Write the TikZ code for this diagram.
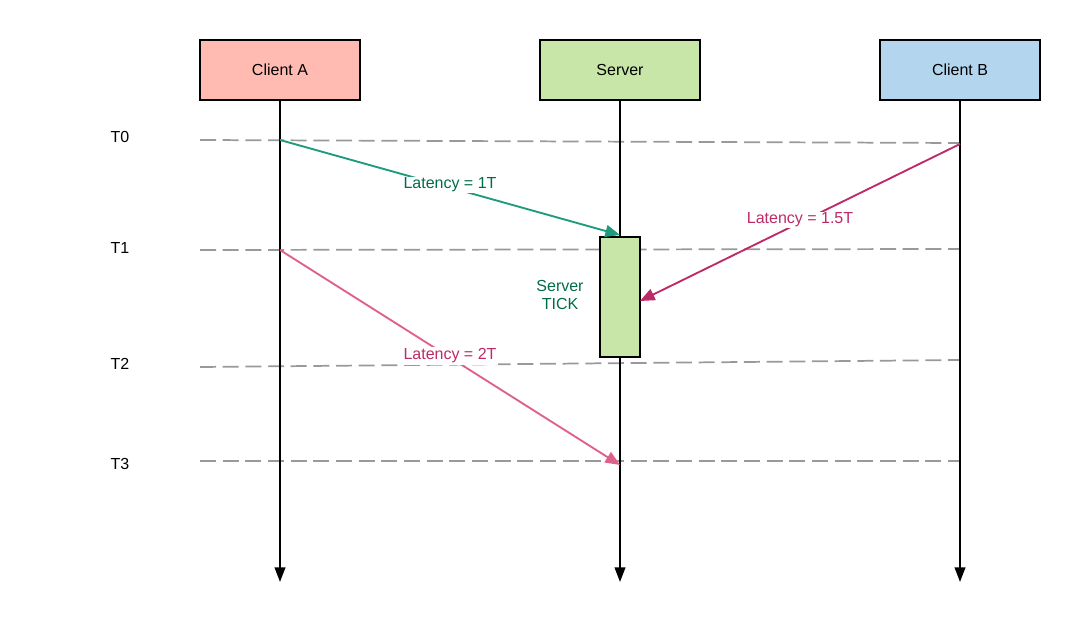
\documentclass[tikz,border=0pt]{standalone}
\usepackage{fontspec}
\setmainfont{Liberation Sans}
\usetikzlibrary{arrows.meta}
\definecolor{ca}{HTML}{FFBBB1}
\definecolor{sv}{HTML}{C8E6A8}
\definecolor{cb}{HTML}{B3D6EE}
\definecolor{gr}{HTML}{1E9A7C}
\definecolor{dg}{HTML}{006B4A}
\definecolor{mg}{HTML}{BE2A66}
\definecolor{pk}{HTML}{E0608C}
\tikzset{
  box/.style={draw, line width=1.4pt, minimum width=120pt, minimum height=45pt, font=\large},
  life/.style={line width=1.4pt, -{Triangle[length=11pt,width=8pt]}},
  grid/.style={gray!80, dash pattern=on 12pt off 5pt, line width=1.3pt},
  msg/.style={line width=1.4pt, -{Triangle[length=11pt,width=9pt]}},
  lbl/.style={fill=white, inner sep=1pt, font=\large},
  tl/.style={font=\large}
}
\begin{document}
\begin{tikzpicture}[x=0.75pt,y=-0.75pt]
\useasboundingbox (0,0) rectangle (1080,620);
\node[box, fill=ca] (a) at (280,70) {Client A};
\node[box, fill=sv] (s) at (620,70) {Server};
\node[box, fill=cb] (b) at (960,70) {Client B};
\coordinate (ae) at (280,582);
\coordinate (se) at (620,582);
\coordinate (be) at (960,582);
% time lines
\coordinate (g0a) at (200,140); \coordinate (g0b) at (960,143);
\coordinate (g1a) at (200,250); \coordinate (g1b) at (960,249);
\coordinate (g2a) at (200,367); \coordinate (g2b) at (960,360);
\coordinate (g3a) at (200,461); \coordinate (g3b) at (960,461);
\draw[grid] (g0a) -- (g0b);
\draw[grid] (g1a) -- (g1b);
\draw[grid] (g2a) -- (g2b);
\draw[grid] (g3a) -- (g3b);
\node[tl] (t0) at (120,137) {T0};
\node[tl] (t1) at (120,248) {T1};
\node[tl] (t2) at (120,364) {T2};
\node[tl] (t3) at (120,464) {T3};
\draw[life] (a.south) -- (ae);
\draw[life] (s.south) -- (se);
\draw[life] (b.south) -- (be);
\node[draw, line width=1.4pt, fill=sv, minimum width=30pt, minimum height=90pt, inner sep=0pt] (tick) at (620,297) {};
\node[text=dg, align=center, font=\large] (tt) at (560,295) {Server\\TICK};
% messages
\coordinate (m1a) at (280,140); \coordinate (m1b) at (620,235);
\coordinate (m2a) at (960,144); \coordinate (m2b) at (640,301);
\coordinate (m3a) at (280,250); \coordinate (m3b) at (620,465);
\draw[msg, gr] (m1a) -- (m1b);
\draw[msg, mg] (m2a) -- (m2b);
\draw[msg, pk] (m3a) -- (m3b);
\node[lbl, text=dg] (l1) at (450,185) {Latency = 1T};
\node[lbl, text=mg] (l2) at (800,220) {Latency = 1.5T};
\node[lbl, text=mg] (l3) at (450,356) {Latency = 2T};
\end{tikzpicture}
\end{document}
